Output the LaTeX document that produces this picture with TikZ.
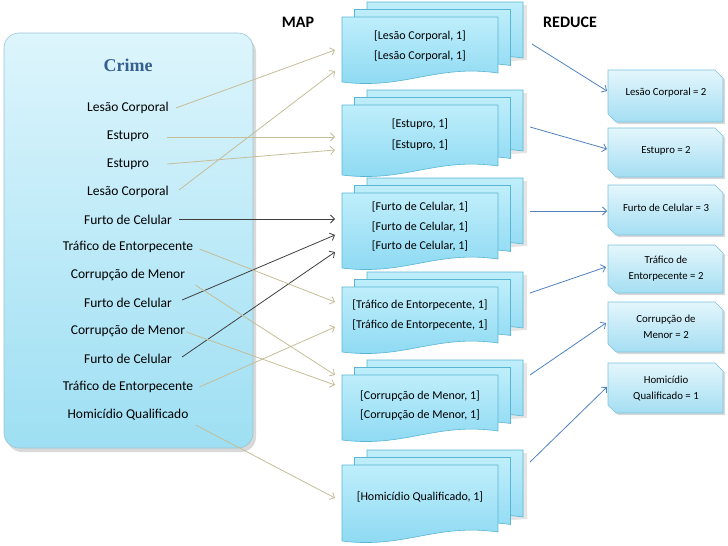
\documentclass[tikz,border=0pt]{standalone}
\usepackage{fontspec}
\setmainfont{Carlito}
\newfontfamily\crimefont{Liberation Serif}
\usetikzlibrary{arrows.meta,calc}
\definecolor{leftborder}{HTML}{9CC3D2}
\definecolor{lefttop}{HTML}{DDF5FC}
\definecolor{leftbot}{HTML}{9EDFF3}
\definecolor{crimeblue}{HTML}{365F91}
\definecolor{sheettop}{HTML}{BFEEFB}
\definecolor{sheetbot}{HTML}{8AD8F2}
\definecolor{sheetborder}{HTML}{5AB5D3}
\definecolor{redtop}{HTML}{E4F6FC}
\definecolor{redbot}{HTML}{A4DEF2}
\definecolor{redborder}{HTML}{7EC0DA}
\definecolor{maptan}{HTML}{C4BD97}
\definecolor{mapdark}{HTML}{3F3F3F}
\definecolor{reduceblue}{HTML}{4F81BD}
\tikzset{
  item/.style={font=\fontsize{13.5}{15}\selectfont, inner sep=3pt},
  sheettext/.style={font=\fontsize{12}{14}\selectfont, inner sep=1pt},
  boxtext/.style={font=\fontsize{10.8}{12}\selectfont, inner sep=1pt, align=center},
  header/.style={font=\bfseries\fontsize{16}{18}\selectfont},
  sheet/.style={draw=sheetborder, line width=0.6pt, top color=sheettop, bottom color=sheetbot},
  rbox/.style={draw=redborder, line width=0.6pt, top color=redtop, bottom color=redbot},
  maparrow/.style={draw=maptan, line width=0.8pt, -{Straight Barb[length=4pt,width=8pt]}},
  darkarrow/.style={draw=mapdark, line width=0.8pt, -{Straight Barb[length=4pt,width=8pt]}},
  redarrow/.style={draw=reduceblue, line width=0.8pt, -{Straight Barb[length=4pt,width=8pt]}}
}
\newcommand{\mrsheet}[4]{%
  \draw[sheet] (#1,#2) -- ({#1+#3},#2) -- ({#1+#3},{#2+#4-9})
    .. controls ({#1+0.6*#3},{#2+#4-18}) and ({#1+0.4*#3},{#2+#4+8}) .. (#1,{#2+#4}) -- cycle;}
\newcommand{\mrstack}[2]{%
  \fill[black,opacity=0.10] (371,{#1-12}) -- (527,{#1-12}) -- (527,{#1+#2-22}) -- (371,{#1+#2-12}) -- cycle;
  \mrsheet{367}{#1-15}{156}{#2}
  \mrsheet{354.5}{#1-7.5}{156}{#2}
  \mrsheet{342}{#1}{156}{#2}}
\newcommand{\mrbox}[2]{%
  \fill[black,opacity=0.15] (610,{#1+2}) -- (717,{#1+2}) -- (725,{#1+10}) -- (725,{#2+2}) -- (618,{#2+2}) -- (610,{#2-6}) -- cycle;
  \draw[rbox] (608,#1) -- (715,#1) -- (723,{#1+8}) -- (723,#2) -- (616,#2) -- (608,{#2-8}) -- cycle;}
\begin{document}
\begin{tikzpicture}[x=1pt,y=-1pt]
\useasboundingbox (0,0) rectangle (728,546);

% left panel
\fill[black,opacity=0.15,rounded corners=15pt] (7,37) rectangle (256,452);
\draw[draw=leftborder, line width=0.6pt, top color=lefttop, bottom color=leftbot, rounded corners=15pt] (4,33) rectangle (253,448);
\node[font=\crimefont\bfseries\fontsize{18}{20}\selectfont, text=crimeblue] (crime) at (128,65) {Crime};
\node[item] (i1) at (128,108) {Lesão Corporal};
\node[item] (i2) at (128,136) {Estupro};
\node[item] (i3) at (128,164) {Estupro};
\node[item] (i4) at (128,192) {Lesão Corporal};
\node[item] (i5) at (128,220) {Furto de Celular};
\node[item] (i6) at (128,247) {Tráfico de Entorpecente};
\node[item] (i7) at (128,275) {Corrupção de Menor};
\node[item] (i8) at (128,303) {Furto de Celular};
\node[item] (i9) at (128,331) {Corrupção de Menor};
\node[item] (i10) at (128,359) {Furto de Celular};
\node[item] (i11) at (128,387) {Tráfico de Entorpecente};
\node[item] (i12) at (128,415) {Homicídio Qualificado};

% headers
\node[header] (map) at (298,22) {MAP};
\node[header] (reduce) at (570,22) {REDUCE};

% map stacks
\mrstack{17}{65}
\node[sheettext] (m1a) at (420,36) {[Lesão Corporal, 1]};
\node[sheettext] (m1b) at (420,56) {[Lesão Corporal, 1]};
\mrstack{105}{70}
\node[sheettext] (m2a) at (420,124) {[Estupro, 1]};
\node[sheettext] (m2b) at (420,145) {[Estupro, 1]};
\mrstack{193}{75}
\node[sheettext] (m3a) at (420,207) {[Furto de Celular, 1]};
\node[sheettext] (m3b) at (420,227) {[Furto de Celular, 1]};
\node[sheettext] (m3c) at (420,246) {[Furto de Celular, 1]};
\mrstack{287}{65}
\node[sheettext] (m4a) at (420,305) {[Tráfico de Entorpecente, 1]};
\node[sheettext] (m4b) at (420,325) {[Tráfico de Entorpecente, 1]};
\mrstack{375}{65}
\node[sheettext] (m5a) at (420,396) {[Corrupção de Menor, 1]};
\node[sheettext] (m5b) at (420,415) {[Corrupção de Menor, 1]};
\mrstack{465}{76}
\node[sheettext] (m6a) at (420,497) {[Homicídio Qualificado, 1]};

% reduce boxes
\mrbox{70}{122}
\node[boxtext] (r1) at (666,93) {Lesão Corporal = 2};
\mrbox{128}{177}
\node[boxtext] (r2) at (666,151) {Estupro = 2};
\mrbox{185}{235}
\node[boxtext] (r3) at (666,208) {Furto de Celular = 3};
\mrbox{245}{293}
\node[boxtext] (r4) at (666,269) {Tráfico de\\[4pt]Entorpecente = 2};
\mrbox{302}{352}
\node[boxtext] (r5) at (666,327) {Corrupção de\\[4pt]Menor = 2};
\mrbox{363}{413}
\node[boxtext] (r6) at (666,388) {Homicídio\\[4pt]Qualificado = 1};

% map arrow end points
\coordinate (e1) at (335,50);
\coordinate (e2) at (335,71);
\coordinate (e3) at (335,137);
\coordinate (e4) at (335,150);
\coordinate (e5) at (335,219);
\coordinate (e6) at (335,235);
\coordinate (e7) at (335,252);
\coordinate (e8) at (335,302);
\coordinate (e9) at (335,327);
\coordinate (e10) at (335,375);
\coordinate (e11) at (335,385);
\coordinate (e12) at (335,498);

\draw[maparrow] ($(i1.east)+(4,0)$) -- (e1);
\draw[maparrow] ($(i4.east)+(7,-2)$) -- (e2);
\draw[maparrow] ($(i2.east)+(15,1)$) -- (e3);
\draw[maparrow] ($(i3.east)+(15,0)$) -- (e4);
\draw[darkarrow] ($(i5.east)+(4,-1)$) -- (e5);
\draw[darkarrow] ($(i8.east)+(7,-3)$) -- (e6);
\draw[darkarrow] ($(i10.east)+(7,-2)$) -- (e7);
\draw[maparrow] ($(i6.east)+(3,2)$) -- (e8);
\draw[maparrow] ($(i11.east)+(3,0)$) -- (e9);
\draw[maparrow] ($(i7.east)+(7,10)$) -- (e10);
\draw[maparrow] ($(i9.east)+(-2,1)$) -- (e11);
\draw[maparrow] ($(i12.east)+(4,10)$) -- (e12);

% reduce arrows
\coordinate (s1) at (532,44);
\coordinate (s2) at (530,127);
\coordinate (s3) at (530,211);
\coordinate (s4) at (530,293);
\coordinate (s5) at (530,375);
\coordinate (s6) at (530,462);
\coordinate (t1) at (607,91);
\coordinate (t2) at (607,149);
\coordinate (t3) at (607,211);
\coordinate (t4) at (606,267);
\coordinate (t5) at (606,323);
\coordinate (t6) at (607,387);
\draw[redarrow] (s1) -- (t1);
\draw[redarrow] (s2) -- (t2);
\draw[redarrow] (s3) -- (t3);
\draw[redarrow] (s4) -- (t4);
\draw[redarrow] (s5) -- (t5);
\draw[redarrow] (s6) -- (t6);
\end{tikzpicture}
\end{document}
